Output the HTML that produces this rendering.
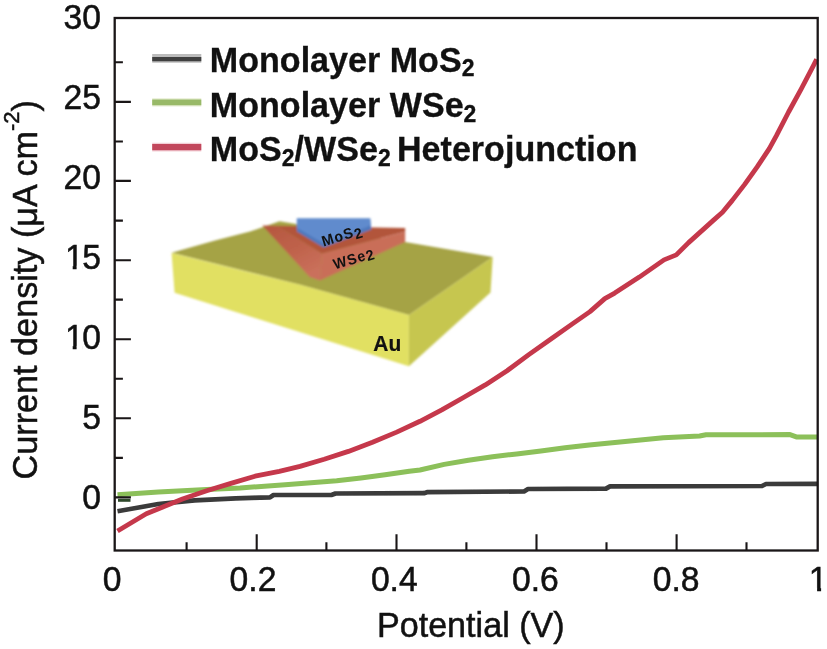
<!DOCTYPE html>
<html lang="en">
<head>
<meta charset="utf-8">
<title>Current density vs Potential</title>
<style>
  html, body { margin: 0; padding: 0; background: #ffffff; }
  body { width: 827px; height: 649px; overflow: hidden; }
  svg { display: block; }
  text { font-family: "Liberation Sans", Arial, Helvetica, sans-serif; fill: #111111; }
  .ax { stroke: #1a1617; fill: none; }
</style>
</head>
<body>
<svg width="827" height="649" viewBox="0 0 827 649">
  <defs>
    <filter id="soft" x="-5%" y="-5%" width="110%" height="110%"><feGaussianBlur stdDeviation="0.7"/></filter>
    <linearGradient id="lf" x1="0" y1="0" x2="0.6" y2="1"><stop offset="0" stop-color="#b4563e"/><stop offset="0.55" stop-color="#bf624b"/><stop offset="1" stop-color="#ca705b"/></linearGradient>
    <filter id="soft2" x="-5%" y="-5%" width="110%" height="110%"><feGaussianBlur stdDeviation="1.0"/></filter>
  </defs>
  <rect x="0" y="0" width="827" height="649" fill="#ffffff"/>
  <g id="inset" filter="url(#soft2)">
    <polygon points="171.6,252.7 215,240.4 250,231.6 279.5,221.3 405,242 492.7,257 408.9,314.9 300,284.8" fill="#a5a345"/>
    <polygon points="171.6,253 300,284.8 408.9,314.9 408.9,366.2 174.6,292.8" fill="#e1e062"/>
    <polygon points="408.9,314.9 492.7,257 490.5,292.5 408.9,366.2" fill="#c6c650"/>
    <polygon points="322,253.6 405.2,231.6 405.2,242 319.9,280.6" fill="#c96e59"/>
    <polygon points="262.3,225.6 277,225.8 322,253.6 319.9,280.6 309.6,276.9" fill="url(#lf)"/>
    <polygon points="277,225.8 405.2,228 405.2,231.6 322,253.6" fill="#b2543a"/>
    <polygon points="296.9,218.4 370.2,218.4 371.3,229.5 323.5,247.5 296.9,231.5" fill="#4f79bd"/>
    <polygon points="296.9,218.4 370.2,218.4 370.6,225.5 323.8,243.6 296.9,227.8" fill="#618bcd"/>
  </g>
  <text transform="translate(323.6,246.4) rotate(-17) scale(1,1.045)" text-anchor="start" font-size="14.2" font-weight="bold" stroke="#111" stroke-width="0" letter-spacing="1.0">MoS<tspan dy="2.8">2</tspan></text>
  <text transform="translate(335.0,269.6) rotate(-17) scale(1,1.045)" text-anchor="start" font-size="14.2" font-weight="bold" stroke="#111" stroke-width="0" letter-spacing="1.0">WSe<tspan dy="1.4">2</tspan></text>
  <text transform="translate(373.3,351.2) scale(1,1.045)" text-anchor="start" font-size="21" font-weight="bold" stroke="#111" stroke-width="0.2" >Au</text>
  <g fill="none" stroke-linejoin="round" stroke-linecap="butt" filter="url(#soft)">
    <polyline stroke="#8cc05a" stroke-width="5.0" points="117.5,494.8 158.4,491.9 206.7,489.6 240,488 288.4,484.4 336.7,480.8 360.9,477.9 385.1,474.7 409.3,471.2 420,470 444.2,464.4 468.4,460.2 492.6,456.8 516.7,453.9 540.9,451 565.1,447.8 589.3,444.9 620,442.1 663.3,437.8 699.6,436 706,434.8 790,434.6 797,437.1 817,437.1"/>
    <polyline stroke="#3a3a3a" stroke-width="4.7" points="117.5,511.2 158.4,504 194.6,500.4 235.8,498.3 270,497.4 273.5,495 332,494.8 335.5,493.5 424,493.2 427,492.2 524,491.4 528,489 606,488.6 610,486.4 762,486 766,484 817,483.8"/>
    <polyline stroke="#c5384b" stroke-width="4.8" points="117.5,531 146.3,513.7 182.5,499.1 206.7,490.7 230.9,483.4 255,476.2 279.3,471.3 300,466.4 324.2,459.2 348.4,451.4 372.5,442.2 396.7,432.1 420,421.3 441.8,409.9 463.5,397.5 485.3,384.9 507.1,370.7 528.8,354.6 550.6,339.2 572.4,323.9 590,311.6 604.8,298.6 614.7,293.1 639.3,277.1 664,259.9 676.3,254.9 688.6,242.6 713.3,220.4 722.5,212.2 732.3,200.4 744.7,184.4 757,167.1 769.3,148.6 776.3,135.8 788.6,112 801,89.3 813.3,65.9 816.6,59.3"/>
    <line x1="118" y1="500.3" x2="130.5" y2="500.3" stroke="#2f4a2c" stroke-width="3"/>
  </g>
  <rect class="ax" stroke-width="2.3" x="114.7" y="18.0" width="703.0" height="532.5"/>
  <path class="ax" stroke-width="2.1" d="M114.7,101.9h16.2 M114.7,180.9h16.2 M114.7,260.3h16.2 M114.7,339.2h16.2 M114.7,418.2h16.2 M114.7,497.4h16.2 M114.7,62.2h8.2 M114.7,141.5h8.2 M114.7,220.6h8.2 M114.7,299.6h8.2 M114.7,378.7h8.2 M114.7,457.9h8.2 M256.7,550.5v-16.2 M396.5,550.5v-16.2 M536.5,550.5v-16.2 M676.6,550.5v-16.2 M186.6,550.5v-8.2 M326.4,550.5v-8.2 M466.4,550.5v-8.2 M606.5,550.5v-8.2 M746.5,550.5v-8.2"/>
  <text transform="translate(101.0,29.0) scale(1,1.045)" text-anchor="end" font-size="33.7" font-weight="normal" stroke="#111" stroke-width="0.5" >30</text>
  <text transform="translate(101.0,109.05) scale(1,1.045)" text-anchor="end" font-size="33.7" font-weight="normal" stroke="#111" stroke-width="0.5" >25</text>
  <text transform="translate(101.0,189.1) scale(1,1.045)" text-anchor="end" font-size="33.7" font-weight="normal" stroke="#111" stroke-width="0.5" >20</text>
  <text transform="translate(101.0,269.15) scale(1,1.045)" text-anchor="end" font-size="33.7" font-weight="normal" stroke="#111" stroke-width="0.5" >1<tspan dx="-1.5">5</tspan></text>
  <text transform="translate(101.0,349.2) scale(1,1.045)" text-anchor="end" font-size="33.7" font-weight="normal" stroke="#111" stroke-width="0.5" >1<tspan dx="-1.5">0</tspan></text>
  <text transform="translate(101.0,429.25) scale(1,1.045)" text-anchor="end" font-size="33.7" font-weight="normal" stroke="#111" stroke-width="0.5" >5</text>
  <text transform="translate(101.0,509.29999999999995) scale(1,1.045)" text-anchor="end" font-size="33.7" font-weight="normal" stroke="#111" stroke-width="0.5" >0</text>
  <rect x="65.5" y="265.8" width="7.2" height="5.5" fill="#fff"/><rect x="76.6" y="265.8" width="6.3" height="5.5" fill="#fff"/>
  <rect x="65.5" y="345.9" width="7.2" height="5.5" fill="#fff"/><rect x="76.6" y="345.9" width="6.3" height="5.5" fill="#fff"/>
  <text transform="translate(112.1,591.2) scale(1,1.045)" text-anchor="middle" font-size="33.7" font-weight="normal" stroke="#111" stroke-width="0.5" >0</text>
  <text transform="translate(253.0,591.2) scale(1,1.045)" text-anchor="middle" font-size="33.7" font-weight="normal" stroke="#111" stroke-width="0.5" >0.2</text>
  <text transform="translate(394.3,591.2) scale(1,1.045)" text-anchor="middle" font-size="33.7" font-weight="normal" stroke="#111" stroke-width="0.5" >0.4</text>
  <text transform="translate(535.4,591.2) scale(1,1.045)" text-anchor="middle" font-size="33.7" font-weight="normal" stroke="#111" stroke-width="0.5" >0.6</text>
  <text transform="translate(676.1,591.2) scale(1,1.045)" text-anchor="middle" font-size="33.7" font-weight="normal" stroke="#111" stroke-width="0.5" >0.8</text>
  <text transform="translate(818.2,591.2) scale(1,1.045)" text-anchor="middle" font-size="33.7" font-weight="normal" stroke="#111" stroke-width="0.5" >1</text>
  <rect x="809" y="587.9" width="8.1" height="5.5" fill="#fff"/><rect x="821.1" y="587.9" width="5.9" height="5.5" fill="#fff"/>
  <text transform="translate(470.8,637.4) scale(1,1.045)" text-anchor="middle" font-size="34.15" font-weight="normal" stroke="#111" stroke-width="0.5" >Potential (V)</text>
  <text transform="translate(37.0,479.4) rotate(-90) scale(1,1.045)" text-anchor="start" font-size="34.2" font-weight="normal" stroke="#111" stroke-width="0.5" >Current density (μA cm<tspan dy="-17.2" font-size="22">-2</tspan><tspan dy="17.2">)</tspan></text>
  <g filter="url(#soft)">
    <line x1="152.2" y1="58.4" x2="201.3" y2="58.4" stroke="#bcbcbc" stroke-width="8.6"/>
    <line x1="152.2" y1="59.1" x2="201.3" y2="59.1" stroke="#3f3f3f" stroke-width="4.4"/>
    <line x1="152.2" y1="102.4" x2="201.3" y2="102.4" stroke="#e6edd2" stroke-width="8.2"/>
    <line x1="152.2" y1="102.4" x2="201.3" y2="102.4" stroke="#98b968" stroke-width="5.8"/>
    <line x1="152.2" y1="147.1" x2="201.3" y2="147.1" stroke="#f3cfd6" stroke-width="8.6"/>
    <line x1="152.2" y1="147.1" x2="201.3" y2="147.1" stroke="#c2465b" stroke-width="6.2"/>
  </g>
  <text transform="translate(209.8,71.5) scale(1,1.045)" text-anchor="start" font-size="34.1" font-weight="bold" stroke="#111" stroke-width="0.3" >Monolayer MoS<tspan dy="4.6" font-size="23">2</tspan></text>
  <text transform="translate(209.8,117.0) scale(1,1.045)" text-anchor="start" font-size="34.1" font-weight="bold" stroke="#111" stroke-width="0.3" >Monolayer WSe<tspan dy="4.6" font-size="23">2</tspan></text>
  <text transform="translate(209.8,160.9) scale(1,1.045)" text-anchor="start" font-size="34.1" font-weight="bold" stroke="#111" stroke-width="0.3" >MoS<tspan dy="4.6" font-size="23">2</tspan><tspan dy="-4.6">/WSe</tspan><tspan dy="4.6" font-size="23">2</tspan><tspan dy="-4.6" dx="-3.2"> Heterojunction</tspan></text>
</svg>
</body>
</html>
